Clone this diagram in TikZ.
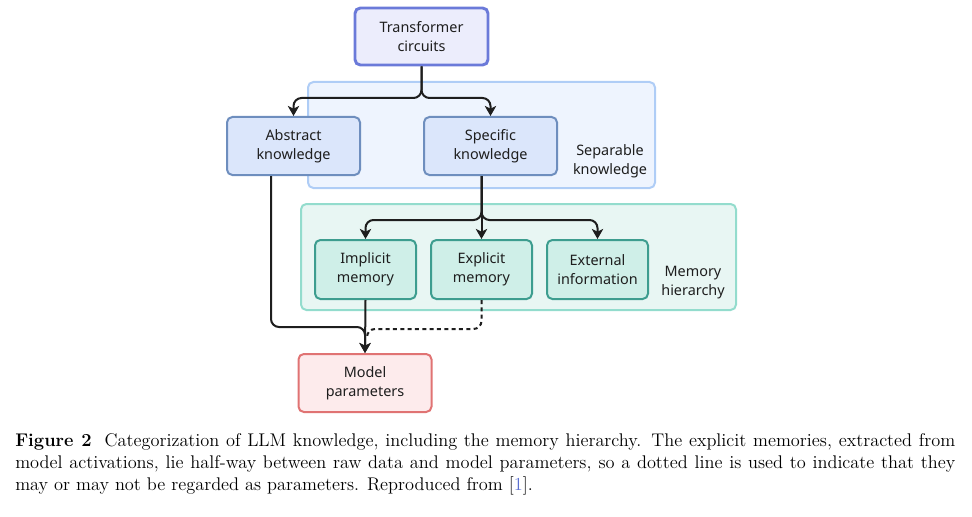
\documentclass[tikz,border=0pt]{standalone}
\usepackage{fontspec}
\setsansfont{Noto Sans}
\usepackage{xcolor}
\usepackage{tikz}
\usetikzlibrary{arrows.meta,positioning}

\definecolor{inkdark}{HTML}{1E1E1E}
\definecolor{circfill}{HTML}{ECEDFC}
\definecolor{circline}{HTML}{6B7AD9}
\definecolor{sepfill}{HTML}{EEF4FE}
\definecolor{sepline}{HTML}{AFCDF6}
\definecolor{knowfill}{HTML}{DBE6FB}
\definecolor{knowline}{HTML}{6E8EBE}
\definecolor{memfill}{HTML}{E8F6F3}
\definecolor{memline}{HTML}{93DCCD}
\definecolor{cellfill}{HTML}{CFEFE8}
\definecolor{cellline}{HTML}{3D9D8F}
\definecolor{paramfill}{HTML}{FDEBEC}
\definecolor{paramline}{HTML}{E07373}
\definecolor{citeblue}{HTML}{5B6FD0}

\begin{document}
\begin{tikzpicture}[
  x=0.75pt, y=-0.75pt,
  box/.style={draw, rounded corners=4pt, line width=1.5pt, align=center, text=inkdark,
    font=\sffamily\fontsize{10.8}{14.25}\selectfont, minimum width=99.75pt, minimum height=43.5pt, inner sep=0pt},
  knowbox/.style={box, fill=knowfill, draw=knowline},
  cellbox/.style={box, fill=cellfill, draw=cellline, minimum width=75.75pt, minimum height=44.25pt},
  group/.style={draw, rounded corners=4pt, line width=1.5pt, inner sep=0pt},
  grouplabel/.style={align=center, text=inkdark, font=\sffamily\fontsize{10.8}{14.25}\selectfont},
  link/.style={draw=inkdark, line width=1.5pt, rounded corners=6pt},
  arrow/.style={link, -{Stealth[length=7.5pt, width=8.5pt, inset=2pt]}}
]
\useasboundingbox (0,0) rectangle (972,517);

% groups
\node[group, fill=sepfill, draw=sepline, minimum width=260.25pt, minimum height=79.5pt] (separable) at (481.5,135) {};
\node[grouplabel] (seplabel) at (610,161) {Separable\\knowledge};
\node[group, fill=memfill, draw=memline, minimum width=326.25pt, minimum height=79.5pt] (hierarchy) at (518.5,257) {};
\node[grouplabel] (memlabel) at (693,283) {Memory\\hierarchy};

% boxes
\node[box, fill=circfill, draw=circline, line width=2.2pt, minimum height=42.75pt] (circuits) at (421.5,36.5) {Transformer\\circuits};
\node[knowbox] (abstract) at (293.5,146) {Abstract\\knowledge};
\node[knowbox] (specific) at (490.5,146) {Specific\\knowledge};
\node[cellbox] (implicit) at (365.5,269.5) {Implicit\\memory};
\node[cellbox] (explicit) at (481.5,269.5) {Explicit\\memory};
\node[cellbox] (external) at (597.5,269.5) {External\\information};
\node[box, fill=paramfill, draw=paramline] (model) at (365,383) {Model\\parameters};

% connectors
\coordinate (split1) at (421.5,98);
\coordinate (split2) at (481.5,220);
\coordinate (bend) at (271,327);
\coordinate (join) at (367,329);
\draw[arrow] (circuits.south) -- (split1) -| (abstract.north);
\draw[arrow] (circuits.south) -- (split1) -| (specific.north);
\draw[arrow] (specific.south -| split2) -- (split2) -| (implicit.north);
\draw[arrow] (specific.south -| split2) -- (explicit.north);
\draw[arrow] (specific.south -| split2) -- (split2) -| (external.north);
\draw[arrow] (abstract.south -| bend) -- (bend) -| (model.north);
\draw[arrow] (implicit.south) -- (model.north);
\draw[link, dash pattern=on 3pt off 2.5pt] (explicit.south) |- (join) -- ++(0,7);

% caption
\node[anchor=north west, inner sep=0pt, text width=705pt, align=justify,
  font=\fontsize{13.75}{16.5}\selectfont] (caption) at (15,433)
  {\textbf{Figure 2}\hspace{0.35em} Categorization of LLM knowledge, including the memory hierarchy. The explicit memories, extracted from model activations, lie half-way between raw data and model parameters, so a dotted line is used to indicate that they may or may not be regarded as parameters. Reproduced from {[}\textcolor{citeblue}{1}{]}.};
\end{tikzpicture}
\end{document}
